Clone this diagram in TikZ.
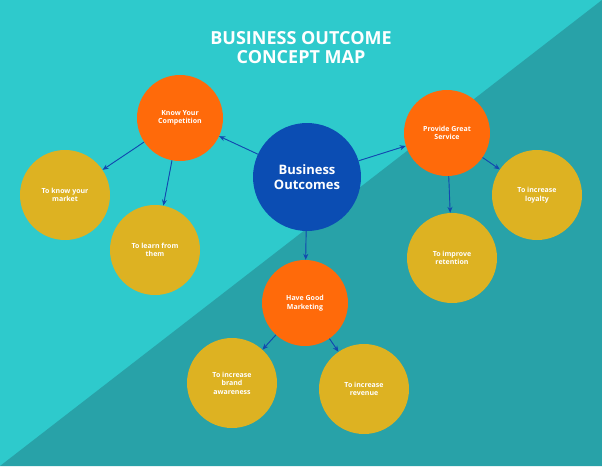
\documentclass[tikz,border=0pt]{standalone}
\usepackage{fontspec}
\setmainfont{Open Sans}
\usetikzlibrary{arrows.meta}
\definecolor{lightteal}{HTML}{2ECACC}
\definecolor{darkteal}{HTML}{28A2A8}
\definecolor{hubblue}{HTML}{0B4DB3}
\definecolor{branchorange}{HTML}{FF6A0A}
\definecolor{leafyellow}{HTML}{DDB222}
\definecolor{arrowblue}{HTML}{1248B0}

\begin{document}
\begin{tikzpicture}[x=1pt,y=-1pt,
	link/.style={-{Stealth[length=6pt,width=5pt]},draw=arrowblue,fill=arrowblue,line width=0.9pt}]
	\tikzstyle{concept}=[circle,inner sep=0pt,text=white,align=center,font=\bfseries]
	\tikzstyle{hub}=[concept,fill=hubblue,minimum size=108pt,font=\bfseries\fontsize{13}{15}\selectfont]
	\tikzstyle{branch}=[concept,fill=branchorange,minimum size=86pt,font=\bfseries\fontsize{7}{8.5}\selectfont]
	\tikzstyle{leaf}=[concept,fill=leafyellow,minimum size=90pt,font=\bfseries\fontsize{7}{8.5}\selectfont]

	% Background
	\fill[lightteal] (0,0) rectangle (602,466);
	\fill[darkteal] (602,0) -- (602,466) -- (0,466) -- cycle;
	\useasboundingbox (0,0) rectangle (602,466);

	% Title
	\node[text=white,align=center,font=\bfseries\fontsize{18}{19}\selectfont] (title) at (301,48) {BUSINESS OUTCOME\\CONCEPT MAP};

	% Main concept and branches
	\node[hub] (hub) at (307,177) {Business\\Outcomes};
	\node[branch] (know) at (180,118) {Know Your\\Competition};
	\node[branch] (serve) at (447,133) {Provide Great\\Service};
	\node[branch] (market) at (305,303) {Have Good\\Marketing};

	% Leaves
	\node[leaf] (L-1) at (65,195) {To know your\\market};
	\node[leaf] (L-2) at (155,250) {To learn from\\them};
	\node[leaf] (L-3) at (452,258) {To improve\\retention};
	\node[leaf] (L-4) at (537,195) {To increase\\loyalty};
	\node[leaf] (L-5) at (232,383) {To increase\\brand\\awareness};
	\node[leaf] (L-6) at (364,389) {To increase\\revenue};

	% Connect hub with branches
	\foreach \dest in {know,serve,market}
	\draw[link] (hub) -- (\dest);

	% Connect branches with leaves
	\foreach \source / \dest in {know/L-1,know/L-2,serve/L-3,serve/L-4,market/L-5,market/L-6}
	\draw[link] (\source) -- (\dest);
\end{tikzpicture}
\end{document}
